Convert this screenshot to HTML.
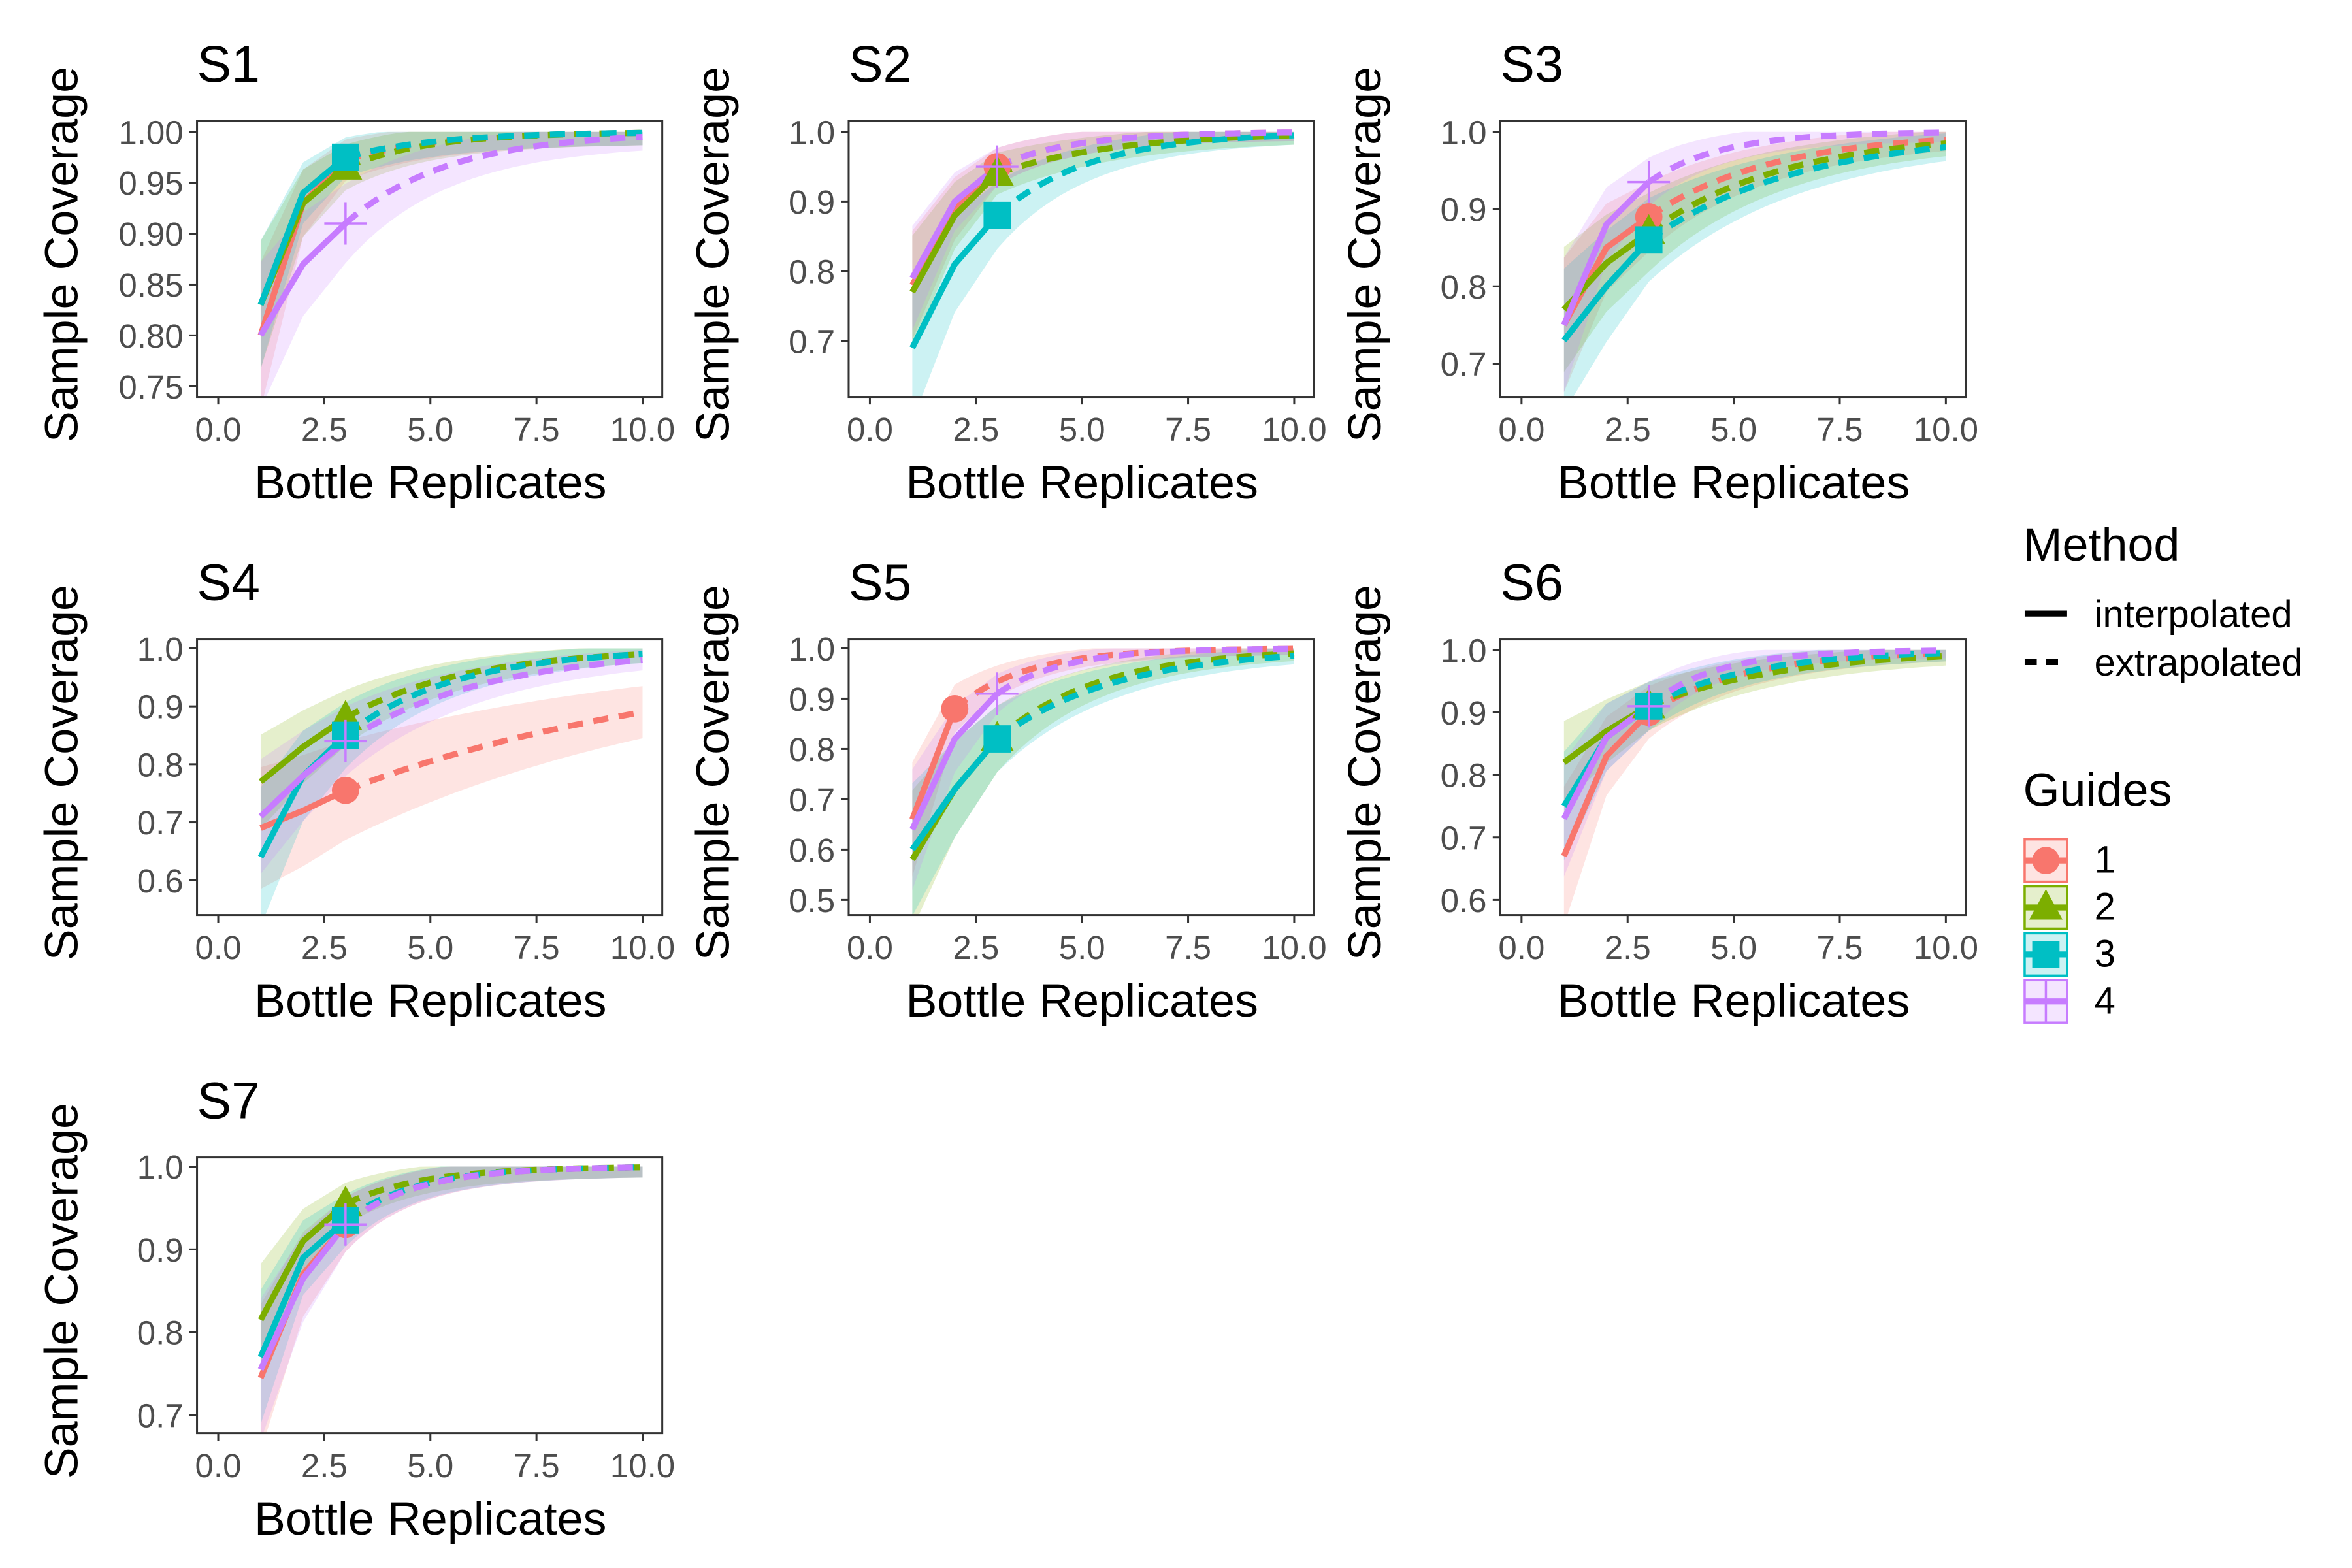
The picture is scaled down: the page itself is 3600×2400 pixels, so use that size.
<!DOCTYPE html>
<html><head><meta charset="utf-8">
<style>html,body{margin:0;padding:0;background:#fff}svg{display:block}</style></head>
<body>
<svg id="s" xmlns="http://www.w3.org/2000/svg" width="3600" height="2400" viewBox="0 0 1552 1035" preserveAspectRatio="none" font-family="Liberation Sans, Arial, sans-serif"></svg>
<script>
const C=['#F8766D','#7CAE00','#00BFC4','#C77CFF'];
const P=[
 {n:'S1',c:0,r:0,y1:87,k:672,ticks:[0.75,0.8,0.85,0.9,0.95,1.0],d:2,
  s:[[[0.80,0.93,0.972],0.999],[[0.83,0.93,0.965],0.999],[[0.83,0.94,0.975],0.999],[[0.80,0.87,0.91],0.995]]},
 {n:'S2',c:1,r:0,y1:87,k:460,ticks:[0.7,0.8,0.9,1.0],d:1,
  s:[[[0.78,0.89,0.95],0.999],[[0.77,0.88,0.94],0.995],[[0.69,0.81,0.88],0.995],[[0.79,0.90,0.95],0.999]]},
 {n:'S3',c:2,r:0,y1:87,k:510,ticks:[0.7,0.8,0.9,1.0],d:1,
  s:[[[0.75,0.85,0.89],0.99],[[0.77,0.83,0.87],0.985],[[0.73,0.80,0.86],0.98],[[0.75,0.88,0.935],0.999]]},
 {n:'S4',c:0,r:1,y1:428,k:382.5,ticks:[0.6,0.7,0.8,0.9,1.0],d:1,
  s:[[[0.69,0.72,0.755],0.89],[[0.77,0.83,0.88],0.99],[[0.64,0.78,0.85],0.99],[[0.71,0.78,0.84],0.98]]},
 {n:'S5',c:1,r:1,y1:428,k:332,ticks:[0.5,0.6,0.7,0.8,0.9,1.0],d:1,
  s:[[[0.66,0.88],0.999],[[0.58,0.72,0.82],0.99],[[0.60,0.72,0.82],0.985],[[0.64,0.82,0.91],0.999]]},
 {n:'S6',c:2,r:1,y1:429,k:412.5,ticks:[0.6,0.7,0.8,0.9,1.0],d:1,
  s:[[[0.67,0.83,0.90],0.995],[[0.82,0.87,0.91],0.99],[[0.75,0.86,0.91],0.995],[[0.73,0.86,0.91],0.999]]},
 {n:'S7',c:0,r:2,y1:770,k:547,ticks:[0.7,0.8,0.9,1.0],d:1,
  s:[[[0.745,0.87,0.93],0.999],[[0.815,0.91,0.955],0.999],[[0.77,0.89,0.935],0.999],[[0.755,0.865,0.93],0.999]]}
];
let o='';
function val(pts,end,t){const t0=pts.length;if(t<=t0){const i=Math.min(Math.floor(t)-1,t0-2);const f=t-(i+1);return pts[i]+(pts[i+1]-pts[i])*f;}
 const c=pts[t0-1];const r=Math.pow((1-end)/(1-c),1/(10-t0));return 1-(1-c)*Math.pow(r,t-t0);}
function marker(i,x,y){const c=C[i];
 if(i==0)return `<circle cx="${x}" cy="${y}" r="9" fill="${c}"/>`;
 if(i==1)return `<polygon points="${x},${y-12} ${x-11},${y+8} ${x+11},${y+8}" fill="${c}"/>`;
 if(i==2)return `<rect x="${x-9}" y="${y-9}" width="18" height="18" fill="${c}"/>`;
 return `<path d="M${x-14},${y}H${x+14}M${x},${y-14}V${y+14}" stroke="${c}" stroke-width="1.5"/>`;}
for(const p of P){
 const L=130+430*p.c,T=80+342*p.r,W=307,H=182;
 const X=t=>L+14+t*28,Y=v=>p.y1+(1-v)*p.k;
 o+=`<text x="${L}" y="${T-26}" font-size="34">${p.n}</text>`;
 o+=`<defs><clipPath id="c${p.n}"><rect x="${L}" y="${T}" width="${W}" height="${H}"/></clipPath></defs><g clip-path="url(#c${p.n})">`;
 p.s.forEach((s,i)=>{let up=[],lo=[];for(let t=1;t<=10.001;t+=0.25){const v=val(s[0],s[1],t);const hw=0.3*(1-v)+0.012;up.push(X(t).toFixed(1)+','+Y(Math.min(1,v+hw)).toFixed(1));lo.unshift(X(t).toFixed(1)+','+Y(v-hw).toFixed(1));}
  o+=`<polygon points="${up.concat(lo).join(' ')}" fill="${C[i]}" fill-opacity="0.2"/>`;});
 p.s.forEach((s,i)=>{const n=s[0].length;let a=[];for(let t=1;t<=n;t++)a.push(X(t)+','+Y(s[0][t-1]));
  o+=`<polyline points="${a.join(' ')}" fill="none" stroke="${C[i]}" stroke-width="4"/>`;
  let b=[];for(let t=n;t<=10.001;t+=0.25)b.push(X(t).toFixed(1)+','+Y(val(s[0],s[1],t)).toFixed(1));
  o+=`<polyline points="${b.join(' ')}" fill="none" stroke="${C[i]}" stroke-width="4" stroke-dasharray="10,7"/>`;});
 p.s.forEach((s,i)=>{const n=s[0].length;o+=marker(i,X(n),Y(s[0][n-1]));});
 o+='</g>';
 o+=`<rect x="${L}" y="${T}" width="${W}" height="${H}" fill="none" stroke="#333" stroke-width="1.3"/>`;
 for(const v of p.ticks){const y=Y(v);o+=`<line x1="${L-5}" x2="${L}" y1="${y}" y2="${y}" stroke="#333" stroke-width="1.3"/><text x="${L-9}" y="${y+8}" font-size="22" fill="#4d4d4d" text-anchor="end">${v.toFixed(p.d)}</text>`;}
 [0,2.5,5,7.5,10].forEach(t=>{const x=X(t);o+=`<line x1="${x}" x2="${x}" y1="${T+H}" y2="${T+H+5}" stroke="#333" stroke-width="1.3"/><text x="${x}" y="${T+H+29}" font-size="22" fill="#4d4d4d" text-anchor="middle">${t.toFixed(1)}</text>`;});
 o+=`<text x="${L+154}" y="${T+249}" font-size="31" text-anchor="middle">Bottle Replicates</text>`;
 o+=`<text transform="translate(${L-79},${T+88}) rotate(-90)" font-size="31" text-anchor="middle">Sample Coverage</text>`;
}
o+=`<text x="1335" y="370" font-size="31">Method</text>`;
o+=`<line x1="1336" x2="1364" y1="405" y2="405" stroke="#000" stroke-width="4"/><text x="1382" y="414" font-size="25">interpolated</text>`;
o+=`<line x1="1336" x2="1364" y1="437" y2="437" stroke="#000" stroke-width="4" stroke-dasharray="8,6"/><text x="1382" y="446" font-size="25">extrapolated</text>`;
o+=`<text x="1335" y="532" font-size="31">Guides</text>`;
for(let i=0;i<4;i++){const y=553+31*i,cx=1350,cy=y+15;
 o+=`<rect x="1336" y="${y+1}" width="28" height="28" fill="${C[i]}" fill-opacity="0.2" stroke="${C[i]}" stroke-width="1.5"/>`;
 o+=`<line x1="1336" x2="1364" y1="${cy}" y2="${cy}" stroke="${C[i]}" stroke-width="4"/>`;
 o+=marker(i,cx,cy);
 o+=`<text x="1382" y="${cy+8}" font-size="25">${i+1}</text>`;}
document.getElementById('s').innerHTML=o;
</script>
</body></html>
